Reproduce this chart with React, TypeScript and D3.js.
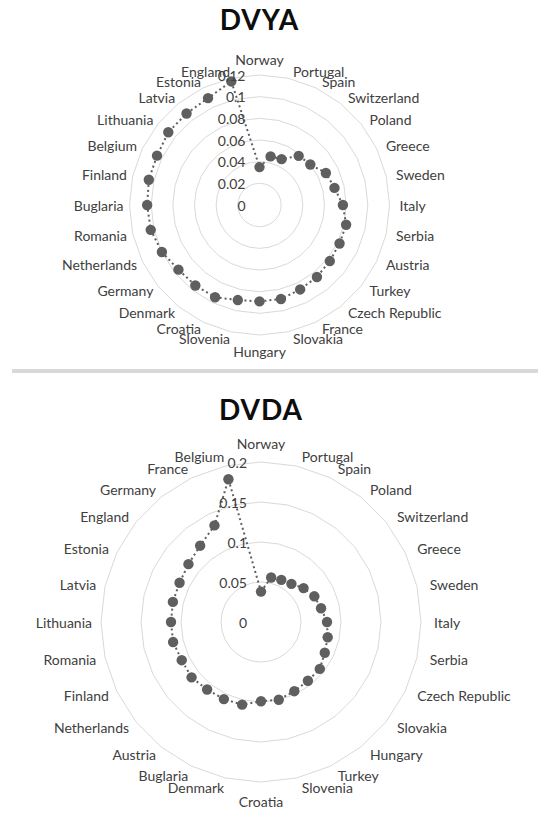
import React from 'react';
import * as d3 from 'd3';

const dvyaCountries = [
  'Norway', 'Portugal', 'Spain', 'Switzerland', 'Poland', 'Greece', 'Sweden',
  'Italy', 'Serbia', 'Austria', 'Turkey', 'Czech Republic', 'France', 'Slovakia',
  'Hungary', 'Slovenia', 'Croatia', 'Denmark', 'Germany', 'Netherlands', 'Romania',
  'Buglaria', 'Finland', 'Belgium', 'Lithuania', 'Latvia', 'Estonia', 'England',
];
const dvyaValues = [
  0.035, 0.046, 0.047, 0.058, 0.06, 0.068, 0.071,
  0.077, 0.082, 0.082, 0.083, 0.085, 0.0865, 0.089,
  0.089, 0.09, 0.0945, 0.095, 0.0957, 0.1, 0.103,
  0.1037, 0.1048, 0.105, 0.1077, 0.108, 0.1095, 0.117,
];
const dvyaTicks = [0, 0.02, 0.04, 0.06, 0.08, 0.1, 0.12];

const dvdaCountries = [
  'Norway', 'Portugal', 'Spain', 'Poland', 'Switzerland', 'Greece', 'Sweden',
  'Italy', 'Serbia', 'Czech Republic', 'Slovakia', 'Hungary', 'Turkey', 'Slovenia',
  'Croatia', 'Denmark', 'Buglaria', 'Austria', 'Netherlands', 'Finland', 'Romania',
  'Lithuania', 'Latvia', 'Estonia', 'England', 'Germany', 'France', 'Belgium',
];
const dvdaValues = [
  0.038, 0.057, 0.0585, 0.061, 0.068, 0.074, 0.077,
  0.0825, 0.0855, 0.0885, 0.094, 0.094, 0.096, 0.0997,
  0.099, 0.106, 0.107, 0.108, 0.111, 0.11, 0.1127,
  0.1125, 0.113, 0.113, 0.116, 0.122, 0.134, 0.183,
];
const dvdaTicks = [0, 0.05, 0.1, 0.15, 0.2];

const FONT = 'Lato, "Open Sans", sans-serif';
const TEXT = '#404040';
const GRID = '#d9d9d9';
const MARK = '#5f5f5f';

interface RadarProps {
  title: string;
  titleY: number;
  categories: string[];
  values: number[];
  ticks: number[];
  cx: number;
  cy: number;
  radius: number;
  labelRadius: number;
}

const Radar: React.FC<RadarProps> = ({
  title, titleY, categories, values, ticks, cx, cy, radius, labelRadius,
}) => {
  const n = categories.length;
  const angle = d3.scaleLinear().domain([0, n]).range([0, 2 * Math.PI]);
  const r = d3.scaleLinear().domain([0, ticks[ticks.length - 1]]).range([0, radius]);

  const ring = (v: number) =>
    d3.lineRadial<number>()
      .angle((_, i) => angle(i))
      .radius(() => r(v))
      .curve(d3.curveLinearClosed)(d3.range(n));

  const series = d3.lineRadial<number>()
    .angle((_, i) => angle(i))
    .radius((d) => r(d))
    .curve(d3.curveLinearClosed)(values);

  return (
    <g>
      <text
        x={cx}
        y={titleY}
        textAnchor="middle"
        fontFamily={FONT}
        fontWeight="bold"
        fontSize={28}
        letterSpacing={1}
        fill="#0d0d0d"
      >
        {title}
      </text>
      <g transform={`translate(${cx},${cy})`}>
        {ticks.slice(1).map((t) => (
          <path key={t} d={ring(t) || ''} fill="none" stroke={GRID} strokeWidth={1} />
        ))}
        <path
          d={series || ''}
          fill="none"
          stroke={MARK}
          strokeWidth={2}
          strokeDasharray="2,3"
        />
        {values.map((v, i) => (
          <circle
            key={i}
            cx={r(v) * Math.sin(angle(i))}
            cy={-r(v) * Math.cos(angle(i))}
            r={5.2}
            fill={MARK}
          />
        ))}
        {ticks.map((t) => (
          <text
            key={t}
            x={-14}
            y={-r(t)}
            textAnchor="end"
            dominantBaseline="central"
            fontFamily={FONT}
            fontSize={14}
            fill={TEXT}
          >
            {String(+t.toFixed(3))}
          </text>
        ))}
        {categories.map((c, i) => {
          const a = angle(i);
          const s = Math.sin(a);
          const co = Math.cos(a);
          if (Math.abs(s) < 1e-6) {
            return (
              <text
                key={c}
                x={0}
                y={co > 0 ? -labelRadius - 9 : labelRadius + 9}
                textAnchor="middle"
                dominantBaseline="central"
                fontFamily={FONT}
                fontSize={14}
                fill={TEXT}
              >
                {c}
              </text>
            );
          }
          return (
            <text
              key={c}
              x={labelRadius * s + (s > 0 ? 3 : 1)}
              y={-labelRadius * co}
              textAnchor={s > 0 ? 'start' : 'end'}
              dominantBaseline="central"
              fontFamily={FONT}
              fontSize={14}
              fill={TEXT}
            >
              {c}
            </text>
          );
        })}
      </g>
    </g>
  );
};

export default function App() {
  return (
    <svg
      width={550}
      height={815}
      style={{ position: 'absolute', left: 0, top: 0, background: '#fff' }}
    >
      <Radar
        title="DVYA"
        titleY={30}
        categories={dvyaCountries}
        values={dvyaValues}
        ticks={dvyaTicks}
        cx={259.5}
        cy={205}
        radius={130}
        labelRadius={137}
      />
      <rect x={12} y={369} width={526} height={4} fill={GRID} />
      <Radar
        title="DVDA"
        titleY={420}
        categories={dvdaCountries}
        values={dvdaValues}
        ticks={dvdaTicks}
        cx={261}
        cy={622}
        radius={160}
        labelRadius={170}
      />
    </svg>
  );
}
